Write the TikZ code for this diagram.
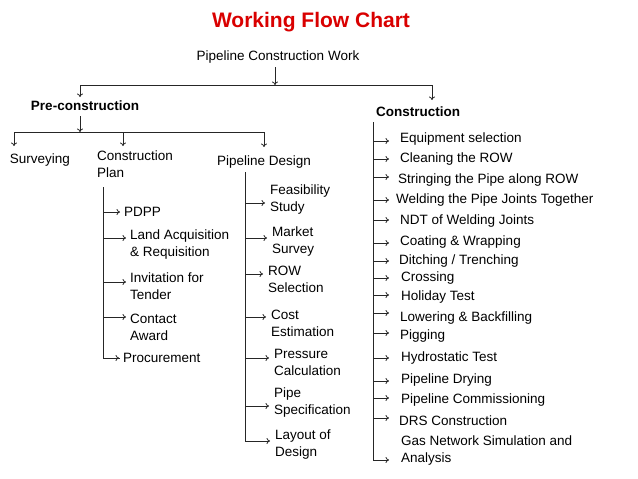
\documentclass[tikz,border=0pt]{standalone}
\usepackage{fontspec}
\setmainfont{Liberation Sans}
\usetikzlibrary{arrows.meta}
\begin{document}
\begin{tikzpicture}[x=1pt,y=-1pt,
  txt/.style={inner sep=0pt,font=\fontsize{13.5}{17}\selectfont,align=left},
  ln/.style={draw=black!85,line width=0.8pt},
  arr/.style={ln,-{To[length=3.5pt,width=6pt]}}]
\useasboundingbox (0,0) rectangle (638,479);
\node[inner sep=0pt,font=\fontsize{21}{24}\selectfont\bfseries,text=red!85!black] (title) at (311,22) {Working Flow Chart};
\node[txt] (pcw) at (278,57) {Pipeline Construction Work};
\node[txt,font=\fontsize{13.5}{17}\selectfont\bfseries] (pre) at (85,106) {Pre-construction};
\node[txt,font=\fontsize{13.5}{17}\selectfont\bfseries] (con) at (418,112) {Construction};
\coordinate (h1) at (275,85);
\draw[ln] (80,85) coordinate (h1l) -- (432,85) coordinate (h1r);
\draw[arr] (275,67) -- (h1);
\draw[arr] (h1l) -- (80,97);
\draw[arr] (h1r) -- (432,100);
% pre
\draw[ln] (14,132) coordinate (h2l) -- (264,132) coordinate (h2r);
\draw[arr] (80,116) -- (80,132);
\draw[arr] (h2l) -- (14,146);
\draw[arr] (123,132) -- (123,146);
\draw[arr] (h2r) -- (264,147);
\node[txt] (surv) at (40,160) {Surveying};
\node[txt,anchor=north west] (cplan) at (97,151) {Construction\\Plan};
\node[txt] (pdes) at (264,162) {Pipeline Design};
% construction plan
\draw[ln] (103,187) -- (103,358) -- (120,358);
\foreach \t/\x/\y/\ay/\nm in {PDPP/124/212/212/a1, {Land Acquisition\\\& Requisition}/130/245/238/a2, {Invitation for\\Tender}/130/286/282/a3, {Contact\\Award}/130/327/317/a4, Procurement/123/358/358/a5}{
  \node[txt,anchor=west] (\nm) at (\x,\y) {\t};
  \draw[arr] (103,\ay) -- (\x-4,\ay);
}
% pipeline design
\draw[ln] (245,172) -- (245,441);
\foreach \t/\x/\y/\ay/\nm in {{Feasibility\\Study}/270/200/203/b1, {Market\\Survey}/272/242/238/b2, {ROW\\Selection}/268/279/274/b3, {Cost\\Estimation}/271/323/317/b4, {Pressure\\Calculation}/274/362/358/b5, {Pipe\\Specification}/274/403/406/b6, {Layout of\\Design}/275/445/441/b7}{
  \node[txt,anchor=west] (\nm) at (\x,\y) {\t};
  \draw[arr] (245,\ay) -- (\x-5,\ay);
}
% construction
\draw[ln] (373,122) -- (373,460);
\foreach \t/\x/\y/\ay/\nm in {Equipment selection/400/139/141/c1, Cleaning the ROW/400/159/159/c2, Stringing the Pipe along ROW/398/180/177/c3, Welding the Pipe Joints Together/396/200/200/c4, NDT of Welding Joints/400/221/220/c5, {Coating \& Wrapping}/400/242/243/c6, {Ditching / Trenching}/399/261/261/c7, Crossing/401/278/278/c8, Holiday Test/401/297/295/c9, {Lowering \& Backfilling}/400/318/313/c10, Pigging/400/336/333/c11, Hydrostatic Test/401/358/358/c12, Pipeline Drying/401/380/381/c13, Pipeline Commissioning/401/400/398/c14, DRS Construction/399/421/418/c15, {Gas Network Simulation and\\Analysis}/401/451/460/c16}{
  \node[txt,anchor=west] (\nm) at (\x,\y) {\t};
  \draw[arr] (373,\ay) -- (389,\ay);
}
\end{tikzpicture}
\end{document}
